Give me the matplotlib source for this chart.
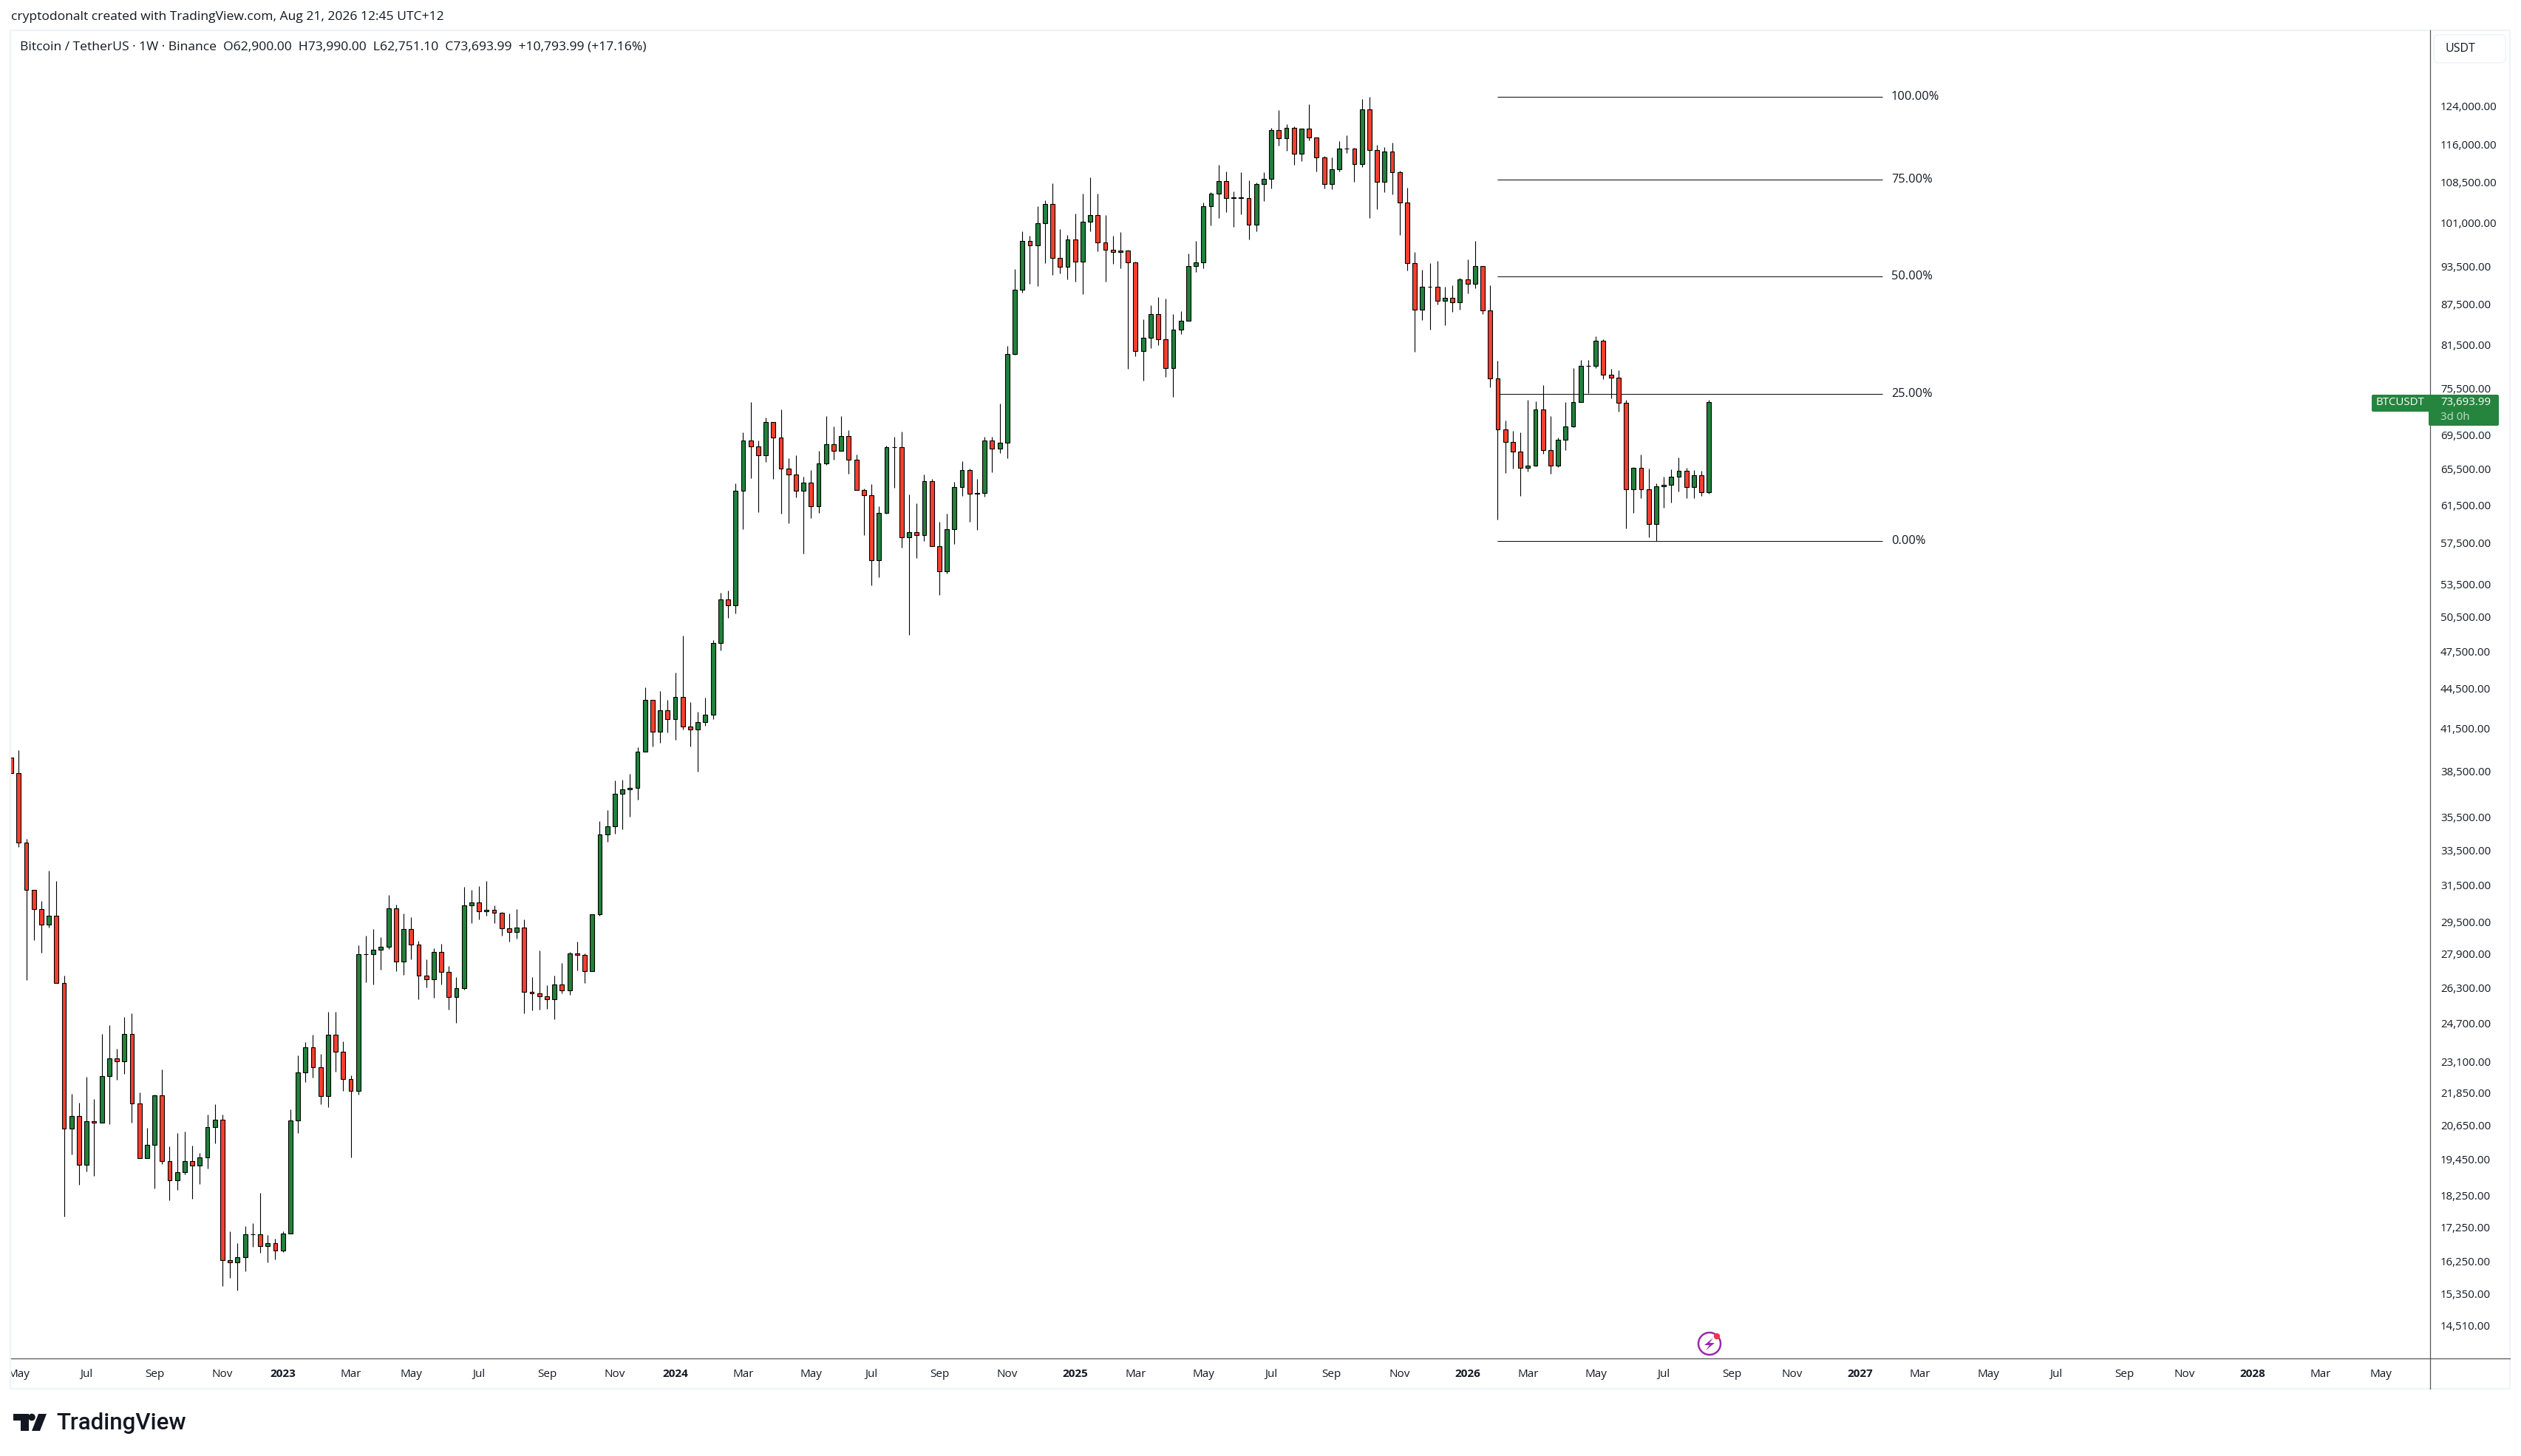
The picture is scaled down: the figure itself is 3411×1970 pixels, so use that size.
import matplotlib
matplotlib.use("Agg")
import matplotlib.pyplot as plt
import matplotlib.dates as mdates
from matplotlib.patches import Rectangle, Circle, Polygon, FancyBboxPatch, Arc
from matplotlib.ticker import NullLocator
import pandas as pd

plt.rcParams['font.family'] = ['Open Sans', 'DejaVu Sans']

# weekly candles, first one is cut by the left edge of the pane
first_week = '2022-04-25'
opens = [39410, 38360, 33960, 31250, 30210, 29390, 29850, 26520, 20530, 20980, 19260, 20790, 20740, 22520, 23230, 23110,
         24250, 21450, 19490, 19950, 21770, 19370, 18750, 19010, 19380, 19220, 19510, 20580, 20850, 16280, 16225, 16370,
         17050, 17050, 16690, 16780, 16560, 17070, 20820, 22660, 23690, 22870, 21740, 24210, 23500, 22380, 21940, 27890,
         27900, 28110, 28270, 30230, 27550, 29170, 28370, 26860, 26690, 27990, 27050, 25870, 26280, 30400, 30550, 30080,
         30170, 30000, 29210, 29000, 29250, 26110, 26040, 25910, 25780, 26440, 26180, 27940, 27860, 27080, 29930, 34440,
         34930, 36980, 37270, 37380, 39840, 43650, 41280, 42870, 42170, 43830, 41610, 41440, 41940, 42500, 48210, 52040,
         51550, 63030, 68840, 68190, 67080, 71100, 69220, 65510, 64840, 63030, 63930, 61310, 66130, 68410, 67610, 69440,
         66550, 63080, 62580, 55780, 60640, 68040, 68090, 58070, 58580, 58300, 64080, 57170, 54740, 58940, 63430, 65400,
         62680, 62780, 68890, 67880, 68630, 80230, 89740, 97800, 97010, 100910, 104420, 94990, 93520, 98150, 94380, 101200,
         102450, 97520, 96270, 95990, 96150, 94170, 80550, 82460, 85970, 82260, 78250, 83660, 84980, 93580, 94170, 103940,
         106260, 108750, 105450, 105570, 105450, 100730, 108200, 109060, 118850, 117170, 119320, 114000, 119170, 117310, 113270, 108090,
         110950, 115050, 115050, 111950, 123260, 114750, 108510, 114450, 110360, 104630, 94040, 86660, 90210, 90210, 88020, 88480,
         87790, 91390, 90750, 93550, 86530, 76790, 70180, 68650, 67500, 65610, 65880, 72700, 67740, 65880, 68930, 70580,
         73640, 78490, 78490, 82030, 77280, 76870, 73560, 63180, 65650, 63180, 59450, 63510, 63690, 64590, 65270, 63440,
         64780, 62900]
closes = [38360, 33960, 31250, 30210, 29390, 29850, 26520, 20530, 20980, 19260, 20790, 20740, 22520, 23230, 23110, 24250,
          21450, 19490, 19950, 21770, 19370, 18750, 19010, 19380, 19220, 19510, 20580, 20850, 16280, 16225, 16370, 17050,
          17050, 16690, 16780, 16560, 17070, 20820, 22660, 23690, 22870, 21740, 24210, 23500, 22380, 21940, 27890, 27900,
          28110, 28270, 30230, 27550, 29170, 28370, 26860, 26690, 27990, 27050, 25870, 26280, 30400, 30550, 30080, 30170,
          30000, 29210, 29000, 29250, 26110, 26040, 25910, 25780, 26440, 26180, 27940, 27860, 27080, 29930, 34440, 34930,
          36980, 37270, 37380, 39840, 43650, 41280, 42870, 42170, 43830, 41610, 41440, 41940, 42500, 48210, 52040, 51550,
          63030, 68840, 68190, 67080, 71100, 69220, 65510, 64840, 63030, 63930, 61310, 66130, 68410, 67610, 69440, 66550,
          63080, 62580, 55780, 60640, 68040, 68090, 58070, 58580, 58300, 64080, 57170, 54740, 58940, 63430, 65400, 62680,
          62780, 68890, 67880, 68630, 80230, 89740, 97800, 97010, 100910, 104420, 94990, 93520, 98150, 94380, 101200, 102450,
          97520, 96270, 95990, 96150, 94170, 80550, 82460, 85970, 82260, 78250, 83660, 84980, 93580, 94170, 103940, 106260,
          108750, 105450, 105570, 105450, 100730, 108200, 109060, 118850, 117170, 119320, 114000, 119170, 117310, 113270, 108090, 110950,
          115050, 115050, 111950, 123260, 114750, 108510, 114450, 110360, 104630, 94040, 86660, 90210, 90210, 88020, 88480, 87790,
          91390, 90750, 93550, 86530, 76790, 70180, 68650, 67500, 65610, 65880, 72700, 67740, 65880, 68930, 70580, 73640,
          78490, 78490, 82030, 77280, 76870, 73560, 63180, 65650, 63180, 59450, 63510, 63690, 64590, 65270, 63440, 64780,
          62900, 73693.99]
highs = [39410, 39960, 34180, 31250, 30620, 32320, 31720, 26860, 21830, 21490, 22470, 21630, 24230, 24610, 23610, 24990,
         25150, 21860, 20550, 21800, 22760, 19900, 20360, 20430, 19920, 19650, 21030, 21430, 21030, 17140, 16770, 17280,
         17380, 18340, 17010, 16910, 17140, 21220, 23330, 23890, 24200, 23390, 25190, 25190, 23940, 22550, 28350, 28800,
         29150, 28740, 30940, 30420, 29980, 29750, 28560, 27640, 28190, 28390, 27330, 26780, 31380, 31220, 31450, 31740,
         30380, 30040, 29980, 30190, 29640, 26780, 28090, 26410, 26860, 27450, 27990, 28530, 27940, 29930, 35230, 35930,
         37880, 37930, 38300, 40150, 44590, 43650, 44310, 43650, 45770, 48870, 43450, 42740, 43800, 48480, 52710, 52870,
         63870, 69880, 73670, 68890, 71720, 71100, 72750, 66770, 67130, 64630, 65400, 67610, 71890, 70600, 71890, 70150,
         67180, 63270, 63770, 61310, 68250, 69330, 69930, 62630, 61660, 64890, 64380, 59690, 60540, 64030, 66390, 65560,
         64380, 69330, 69330, 73500, 81350, 93140, 99510, 98710, 103940, 105090, 108250, 99900, 98880, 102680, 106320, 109380,
         106320, 102380, 98710, 99400, 96380, 94330, 85230, 87390, 88650, 88400, 86020, 86430, 95720, 97860, 104720, 106630,
         111830, 110530, 106750, 110410, 108820, 108430, 110410, 119320, 123150, 120150, 119680, 119170, 124440, 117310, 113570, 113310,
         116630, 117830, 115250, 125580, 126070, 115810, 115400, 116300, 110640, 107440, 95940, 92990, 94070, 94450, 90250, 90490,
         91670, 94740, 97830, 93550, 90470, 79270, 71320, 70060, 69890, 73990, 73810, 75940, 71910, 69210, 73690, 78220,
         79370, 79370, 82700, 82270, 78090, 77960, 73940, 65720, 67190, 65570, 63850, 64630, 65500, 66840, 65650, 65370,
         65310, 73990]
lows = [38360, 33700, 26650, 28610, 27960, 29230, 26520, 17570, 19600, 18600, 19040, 18880, 20740, 20680, 22360, 22610,
        20750, 19490, 19490, 18460, 19280, 18090, 18430, 18930, 18150, 18620, 19140, 19990, 15560, 15780, 15430, 15960,
        16660, 16490, 16225, 16310, 16520, 17070, 20360, 22270, 22440, 21420, 21300, 22680, 21940, 19500, 21800, 26554,
        26460, 27160, 28150, 27080, 26890, 27640, 25760, 26310, 25820, 26460, 25300, 24730, 26220, 29470, 29640, 29850,
        29450, 28800, 28530, 28650, 25130, 25260, 25300, 25330, 24870, 26050, 25960, 27100, 26500, 27080, 29850, 33980,
        34460, 34730, 35550, 36590, 39840, 40190, 40440, 41210, 40670, 41440, 40190, 38460, 41680, 42170, 47610, 50390,
        50790, 58900, 64430, 60680, 66340, 64380, 60540, 59550, 62290, 56440, 60070, 60640, 65970, 66600, 67610, 64950,
        63080, 58300, 53380, 54140, 60540, 63380, 57030, 48900, 56000, 57720, 57170, 52490, 54470, 57390, 62490, 59690,
        58850, 62390, 65150, 67340, 66740, 80090, 89330, 90740, 90370, 94120, 92170, 92380, 91430, 91100, 89060, 99510,
        96050, 91100, 93960, 93250, 78110, 79850, 76500, 81020, 81460, 77030, 74360, 83080, 84980, 92640, 93250, 100560,
        101850, 102920, 100270, 102500, 98030, 99510, 104970, 107340, 115690, 114650, 111880, 112620, 116810, 110550, 107340, 107200,
        110550, 114210, 108560, 111410, 101870, 103460, 106600, 106190, 98850, 92910, 80490, 85120, 83730, 87480, 84360, 86350,
        86680, 89250, 90050, 86050, 75630, 59960, 65040, 65570, 62460, 65190, 65770, 67310, 64930, 65690, 67670, 70500,
        73640, 74850, 78180, 76690, 74200, 72460, 59000, 60630, 62200, 58050, 57680, 61190, 61770, 62930, 62200, 62230,
        62490, 62751.10]

price_ticks = [124000, 116000, 108500, 101000, 93500, 87500, 81500, 75500, 69500, 65500, 61500, 57500, 53500, 50500,
               47500, 44500, 41500, 38500, 35500, 33500, 31500, 29500, 27900, 26300, 24700, 23100, 21850, 20650, 19450,
               18250, 17250, 16250, 15350, 14510]
month_names = {3: 'Mar', 5: 'May', 7: 'Jul', 9: 'Sep', 11: 'Nov'}

fib_low = 57710
fib_high = 126040
fib_levels = [1.0, 0.75, 0.5, 0.25, 0.0]
fib_start = '2026-02-02'
fib_end = '2027-01-25'
fib_label_at = '2027-02-02'

UP = '#23813C'
DOWN = '#F5402F'
LABEL_GREEN = '#25853F'
FRAME = '#F0F3F8'
AXIS = '#555555'
W, H = 3411, 1970

fig = plt.figure(figsize=(W / 100, H / 100), dpi=100, facecolor='white')

# price pane, in pixels: x 15..3288, y 41..1838
ax = fig.add_axes([15 / W, 1 - 1838 / H, (3288 - 15) / W, (1838 - 41) / H])
ax.set_yscale('log')

x = mdates.date2num(pd.date_range(first_week, periods=len(closes), freq='7D'))

ax.vlines(x, lows, highs, color='black', lw=0.8, zorder=2)
bottoms = [min(o, c) for o, c in zip(opens, closes)]
heights = [abs(c - o) for o, c in zip(opens, closes)]
colors = [UP if c >= o else DOWN for o, c in zip(opens, closes)]
ax.bar(x, heights, bottom=bottoms, width=4.0, color=colors, edgecolor='black', linewidth=0.8, zorder=3)

fx0 = mdates.date2num(pd.Timestamp(fib_start))
fx1 = mdates.date2num(pd.Timestamp(fib_end))
fx_label = mdates.date2num(pd.Timestamp(fib_label_at))
for lev in fib_levels:
    price = fib_low + (fib_high - fib_low) * lev
    ax.hlines(price, fx0, fx1, color='#111111', lw=0.75, zorder=1)
    ax.text(fx_label, price, f"{lev * 100:.2f}%", fontsize=11.8, va='center', ha='left', color='#131722')

# time axis, first monday of every second month
ticks = [d for d in pd.date_range('2022-05-01', '2028-05-31', freq='WOM-1MON') if d.month % 2 == 1]
ax.set_xticks(mdates.date2num(ticks))
ax.set_xticklabels([str(d.year) if d.month == 1 else month_names[d.month] for d in ticks], fontsize=11, color='#131722')
for d, lab in zip(ticks, ax.get_xticklabels()):
    if d.month == 1:
        lab.set_fontweight('bold')
ax.tick_params(axis='x', length=0, pad=10)

ax.yaxis.tick_right()
ax.set_yticks(price_ticks)
ax.set_yticklabels([f"{p:,.2f}" for p in price_ticks], fontsize=10.8, color='#131722')
ax.yaxis.set_minor_locator(NullLocator())
ax.tick_params(axis='y', length=0, pad=10)
for side in ax.spines.values():
    side.set_visible(False)

# set_xticks can widen the view, so the limits come last
ax.set_xlim(x[0] - 0.06, x[1] + 319.56 * 7)
ax.set_ylim(13697, 141720)

# everything around the pane goes in an overlay that is measured in pixels
ov = fig.add_axes([0, 0, 1, 1], zorder=5)
ov.set_xlim(0, W)
ov.set_ylim(H, 0)
ov.axis('off')
ov.patch.set_alpha(0)

ov.add_patch(Rectangle((0, 1839), 14, 42, color='white', zorder=1))
ov.plot([14, 3396, 3396, 14, 14], [41, 41, 1879, 1879, 41], color=FRAME, lw=1.6, zorder=2)
ov.plot([15, 3396], [1838, 1838], color=AXIS, lw=0.9, zorder=3)
ov.plot([3288, 3288], [41, 1879], color=AXIS, lw=0.9, zorder=3)

ov.text(15, 23, "cryptodonalt created with TradingView.com, Aug 21, 2026 12:45 UTC+12", fontsize=12.6,
        va='center', ha='left', color='#131722')
ov.text(27, 63, "Bitcoin / TetherUS · 1W · Binance  O62,900.00  H73,990.00  L62,751.10  C73,693.99  +10,793.99 (+17.16%)",
        fontsize=12.6, va='center', ha='left', color='#131722')

# currency box and last price label
ov.add_patch(FancyBboxPatch((3297, 51), 89, 30, boxstyle='round,pad=4,rounding_size=6', fc='white', ec=FRAME, lw=1.2))
ov.text(3308, 66, "USDT", fontsize=11.5, va='center', ha='left', color='#131722')
ov.add_patch(FancyBboxPatch((3211, 536), 77, 19, boxstyle='round,pad=2,rounding_size=2', fc=LABEL_GREEN, ec='none', zorder=4))
ov.add_patch(FancyBboxPatch((3288, 536), 91, 38, boxstyle='round,pad=2,rounding_size=2', fc=LABEL_GREEN, ec='none', zorder=4))
ov.text(3215, 545, "BTCUSDT", fontsize=10.8, va='center', ha='left', color='white', zorder=5)
ov.text(3302, 545, "73,693.99", fontsize=10.8, va='center', ha='left', color='white', zorder=5)
ov.text(3302, 564, "3d 0h", fontsize=10.8, va='center', ha='left', color='#BFE0C9', zorder=5)

# earnings style marker on the time axis
ov.add_patch(Arc((2313, 1818), 30, 30, theta1=-40, theta2=300, color='#9C27B0', lw=1.8))
ov.add_patch(Polygon([(2318, 1810), (2306, 1820), (2313, 1820), (2308, 1827), (2320, 1817), (2313, 1817)],
                     closed=True, fc='#9C27B0', ec='none'))
ov.add_patch(Circle((2323, 1808), 4.2, fc='#F23645', ec='none'))

# logo
ov.add_patch(Polygon([(18, 1913), (39, 1913), (39, 1936), (28, 1936), (28, 1922), (18, 1922)], closed=True, fc='#131722', ec='none'))
ov.add_patch(Circle((43, 1917.5), 4.8, fc='#131722', ec='none'))
ov.add_patch(Polygon([(52, 1913), (63, 1913), (54, 1936), (43, 1936)], closed=True, fc='#131722', ec='none'))
ov.text(76, 1926, "TradingView", fontsize=22.5, fontweight='medium', family=['Roboto', 'DejaVu Sans'],
        va='center', ha='left', color='#131722')

fig.savefig('out.png', dpi=100)
